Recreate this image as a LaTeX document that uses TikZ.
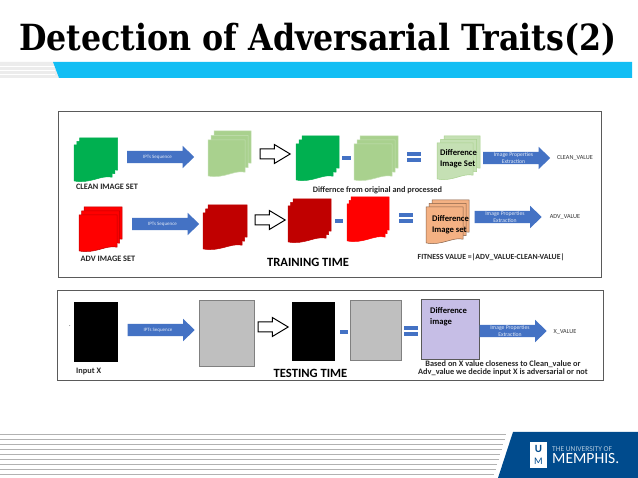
\documentclass[tikz,border=0pt]{standalone}
\usepackage{graphicx}
\usepackage{fontspec}
\setmainfont{Carlito}
\newfontfamily\titlefont{DejaVu Serif}
\usetikzlibrary{shapes.arrows}
\definecolor{bandcyan}{HTML}{12BEF4}
\definecolor{stripegray}{HTML}{ECECEC}
\definecolor{arrowblue}{HTML}{4472C4}
\definecolor{dgreen}{HTML}{00B050}
\definecolor{lgreen}{HTML}{A9D18E}
\definecolor{pgreen}{HTML}{C5E0B4}
\definecolor{dred}{HTML}{C00000}
\definecolor{porange}{HTML}{F4B183}
\definecolor{pviolet}{HTML}{C6BEE6}
\definecolor{memblue}{HTML}{004B8D}
\definecolor{framegray}{HTML}{5A5A5A}
% \docstack{x}{y}{w}{h}{dx}{dy}{fill}{edge}: three document sheets, front sheet at x,y
\newcommand{\docsheet}[6]{%
  \path[fill=#5,draw=#6,line width=.5pt] ({#1},{#2}) -- ({#1+#3},{#2}) -- ({#1+#3},{#2+.87*#4})
    .. controls ({#1+.72*#3},{#2+.80*#4}) and ({#1+.42*#3},{#2+1.06*#4}) .. ({#1},{#2+.97*#4}) -- cycle;}
\newcommand{\docstack}[8]{%
  \docsheet{#1+2*#5}{#2+2*#6}{#3}{#4}{#7}{#8}
  \docsheet{#1+#5}{#2+#6}{#3}{#4}{#7}{#8}
  \docsheet{#1}{#2}{#3}{#4}{#7}{#8}}
\tikzset{
  x=1pt,y=-1pt,
  blockarrow/.style={single arrow,fill=arrowblue,single arrow head extend=5pt,
    single arrow tip angle=88,single arrow head indent=0pt,inner xsep=0pt,inner ysep=6pt,
    minimum width=22pt,minimum height=67pt},
  arrowtext/.style={inner sep=0pt,text=white!85!arrowblue,align=center,
    font=\fontsize{5.7}{7}\selectfont},
  iptstext/.style={inner sep=0pt,text=white!85!arrowblue,font=\fontsize{5}{6}\selectfont},
  hollowarrow/.style={single arrow,draw=black,fill=white,line width=1pt,
    single arrow head extend=4.5pt,single arrow tip angle=62,inner xsep=0pt,inner ysep=4.5pt,
    minimum width=18pt,minimum height=30pt},
  bar/.style={fill=arrowblue,inner sep=0pt,minimum height=3.6pt},
  frameline/.style={draw=framegray,line width=1pt,fill=white},
  caption/.style={font=\fontsize{8.3}{8}\bfseries\selectfont,text=black!85,inner sep=0pt},
  bigcap/.style={font=\fontsize{12.6}{14}\bfseries\selectfont,text=black,inner sep=0pt},
  sheettext/.style={font=\fontsize{8.6}{10.8}\bfseries\selectfont,align=left,anchor=north west,inner sep=0pt},
  valuetext/.style={font=\fontsize{6.2}{7}\selectfont,text=black!80,inner sep=0pt},
  footline/.style={draw=black!30,line width=.7pt},
}
\begin{document}
\begin{tikzpicture}
\useasboundingbox (0,0) rectangle (638,478);
\fill[white] (0,0) rectangle (638,478);
% title
\node[anchor=base west,inner sep=0pt,font=\titlefont\fontsize{36}{40}\bfseries\selectfont] (title) at (19,51) {\scalebox{.88}[1]{Detection of Adversarial Traits(2)}};
% band
\fill[stripegray] (0,62) -- (53,62) -- (59,78) -- (0,78) -- cycle;
\foreach \yy in {66,70,74}{\draw[white,line width=.4pt] (0,\yy) -- (55,\yy);}
\fill[bandcyan] (53,62) -- (632,62) -- (632,78) -- (59,78) -- cycle;
% frames
\node[frameline,minimum width=543pt,minimum height=166pt,inner sep=0pt] (trainframe) at (329.5,195) {};
\node[frameline,minimum width=546pt,minimum height=90pt,inner sep=0pt] (testframe) at (330,336) {};
% training row 1
\docstack{74}{145}{38}{37}{2.8}{-3.5}{dgreen}{dgreen}
\node[blockarrow] (a1) at (157.5,157) {};
\node[iptstext] (a1t) at (a1.center) {IPTs Sequence};
\docstack{208}{140}{37}{37}{3}{-4.5}{lgreen}{pgreen}
\node[hollowarrow] (h1) at (271,154) {};
\docstack{296}{144}{37}{37}{3}{-4}{dgreen}{dgreen}
\node[bar,minimum width=9pt] (m1) at (346.5,158) {};
\docstack{354}{144}{38}{37}{3}{-4}{lgreen}{pgreen}
\node[bar,minimum width=14pt] (e1a) at (414,154) {};
\node[bar,minimum width=14pt] (e1b) at (414,160) {};
\docstack{437}{143}{36}{37}{3.5}{-3.5}{pgreen}{lgreen}
\node[sheettext] (d1) at (440,149) {Difference\\Image Set};
\node[blockarrow] (p1) at (513.5,158) {};
\node[arrowtext] (p1t) at (p1.center) {Image Properties\\Extraction};
\node[valuetext] (v1) at (575,158) {CLEAN\_VALUE};
\node[caption] (c1) at (107,187) {CLEAN IMAGE SET};
\node[caption] (c2) at (377.5,190) {Differnce from original and processed};
% training row 2
\docstack{79}{215}{38}{37}{2.5}{-4}{red}{dred}
\node[blockarrow] (a2) at (162.5,224) {};
\node[iptstext] (a2t) at (a2.center) {IPTs Sequence};
\docstack{203}{213}{39}{37}{2.5}{-4}{dred}{dred}
\node[hollowarrow] (h2) at (266,220) {};
\docstack{288}{206}{38}{37}{2.5}{-3.5}{dred}{dred}
\node[bar,minimum width=8pt] (m2) at (339,221) {};
\docstack{347}{204}{38}{38}{2}{-3.5}{red}{red}
\node[bar,minimum width=14pt] (e2a) at (406,215) {};
\node[bar,minimum width=14pt] (e2b) at (406,221) {};
\docstack{426}{207}{37}{37}{3}{-3.5}{porange}{black!45!porange}
\node[sheettext] (d2) at (432,215) {Difference\\Image  set};
\node[blockarrow] (p2) at (505,217) {};
\node[arrowtext] (p2t) at (p2.center) {Image Properties\\Extraction};
\node[valuetext] (v2) at (565,217) {ADV\_VALUE};
\node[caption] (c3) at (108,259) {ADV IMAGE SET};
\node[bigcap] (c4) at (308,262) {TRAINING TIME};
\node[caption,font=\fontsize{7.8}{8}\bfseries\selectfont] (c5) at (491,257) {FITNESS VALUE =|ADV\_VALUE-CLEAN-VALUE|};
% testing row
\node[fill=black,inner sep=0pt,minimum width=44pt,minimum height=60pt] (x1) at (96,332) {};
\node[inner sep=0pt,font=\fontsize{6}{6}\selectfont] (dot) at (70,326) {.};
\node[blockarrow] (a3) at (158,330) {};
\node[iptstext] (a3t) at (a3.center) {IPTs Sequence};
\node[fill=black!25,draw=black!50,line width=.8pt,inner sep=0pt,minimum width=55pt,minimum height=66pt] (g1) at (226.5,333) {};
\node[hollowarrow] (h3) at (269,327) {};
\node[fill=black,inner sep=0pt,minimum width=43pt,minimum height=59pt] (x2) at (313.5,331.5) {};
\node[bar,minimum width=8pt] (m3) at (344,332) {};
\node[fill=black!25,draw=black!50,line width=.8pt,inner sep=0pt,minimum width=51pt,minimum height=60pt] (g2) at (375.5,330) {};
\node[bar,minimum width=14pt] (e3a) at (411,328) {};
\node[bar,minimum width=14pt] (e3b) at (411,334) {};
\node[fill=pviolet,draw=black!65,line width=.8pt,inner sep=0pt,minimum width=58pt,minimum height=60pt] (d3) at (450,329) {};
\node[sheettext] (d3t) at (430,307) {Difference\\image};
\node[blockarrow] (p3) at (510,331) {};
\node[arrowtext] (p3t) at (p3.center) {Image Properties\\Extraction};
\node[valuetext] (v3) at (565,332) {X\_VALUE};
\node[caption,anchor=west] (c6) at (76,371) {Input X};
\node[bigcap] (c7) at (310.5,373.5) {TESTING TIME};
\node[caption,align=center,font=\fontsize{8.3}{8}\bfseries\selectfont] (c8) at (503,368) {Based on X value closeness to Clean\_value or\\Adv\_value we decide input X is adversarial or not};
% footer
\foreach \yy/\xe in {434/506,439/505,444/503,449/502,454/500,459/499,464/497,469/496,474/494}{\draw[footline] (0,\yy) -- (\xe,\yy);}
\fill[memblue] (513,432) -- (638,432) -- (638,478) -- (498,478) -- cycle;
\node[fill=white,inner sep=0pt,minimum width=17pt,minimum height=26pt] (logo) at (538.5,455) {};
\node[inner sep=0pt,text=memblue,font=\fontsize{11}{11}\bfseries\selectfont] (logoU) at (538.5,449) {U};
\node[inner sep=0pt,text=memblue,font=\fontsize{10}{10}\selectfont] (logoM) at (538.5,461.5) {M};
\node[anchor=west,inner sep=0pt,text=white!70!memblue,font=\fontsize{7.5}{8}\selectfont] (uni) at (552,449.5) {THE UNIVERSITY OF};
\node[anchor=west,inner sep=0pt,text=white,font=\fontsize{15.6}{16}\selectfont] (mem) at (552,459) {MEMPHIS.};
\end{tikzpicture}
\end{document}
